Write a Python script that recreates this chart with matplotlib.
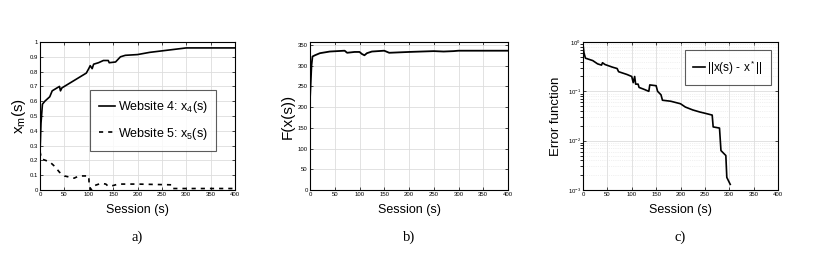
import matplotlib
matplotlib.use("Agg")
import matplotlib.pyplot as plt
import numpy as np

plt.rcParams["font.family"] = ["Liberation Sans", "DejaVu Sans"]
plt.rcParams["mathtext.fontset"] = "custom"
plt.rcParams["mathtext.rm"] = "Liberation Sans"
plt.rcParams["mathtext.it"] = "Liberation Sans"

# a) x_m(s)
s4 = [0, 2, 5, 10, 20, 25, 35, 40, 42, 45, 50, 60, 70, 80, 90, 95, 100, 103, 107, 110,
      120, 130, 140, 142, 155, 165, 175, 200, 225, 250, 275, 300, 400]
x4 = [0.25, 0.45, 0.58, 0.60, 0.63, 0.67, 0.69, 0.70, 0.67, 0.69, 0.70, 0.72, 0.74, 0.76,
      0.78, 0.79, 0.82, 0.84, 0.82, 0.85, 0.86, 0.875, 0.875, 0.86, 0.865, 0.90, 0.91,
      0.915, 0.93, 0.94, 0.95, 0.96, 0.96]
s5 = [0, 3, 20, 30, 40, 50, 70, 80, 100, 101, 105, 112, 125, 135, 140, 150, 160, 200,
      270, 272, 400]
x5 = [0.26, 0.21, 0.19, 0.16, 0.12, 0.095, 0.08, 0.095, 0.095, 0.03, 0.0, 0.03, 0.045,
      0.04, 0.025, 0.03, 0.04, 0.04, 0.035, 0.01, 0.01]

# b) F(x(s))
sf = [0, 3, 5, 10, 20, 40, 70, 75, 90, 100, 105, 110, 115, 125, 150, 160, 180, 200, 250,
      270, 290, 300, 400]
fx = [220, 300, 322, 325, 330, 334, 336, 331, 333, 333, 328, 325, 330, 334, 336, 331,
      332, 333, 335, 334, 335, 336, 336]

# c) error function
se = [0, 2, 5, 20, 30, 38, 40, 45, 60, 70, 73, 90, 100, 103, 106, 108, 113, 115, 125,
      135, 137, 150, 153, 160, 163, 180, 200, 210, 225, 240, 250, 265, 267, 280, 283,
      293, 295, 302]
err = [0.9, 0.6, 0.47, 0.42, 0.36, 0.34, 0.38, 0.35, 0.31, 0.29, 0.25, 0.22, 0.2, 0.15,
       0.2, 0.14, 0.14, 0.12, 0.11, 0.10, 0.135, 0.13, 0.10, 0.085, 0.066, 0.063, 0.056,
       0.048, 0.042, 0.038, 0.036, 0.033, 0.019, 0.018, 0.0063, 0.005, 0.0018, 0.0013]

fig = plt.figure(figsize=(8.15, 2.57), dpi=100)
ax1 = fig.add_axes([40/815, 67/257, 195/815, 148/257])
ax2 = fig.add_axes([310/815, 67/257, 198/815, 148/257])
ax3 = fig.add_axes([583/815, 67/257, 195/815, 148/257])

ax1.plot(s4, x4, "k-", lw=1.2, label="Website 4: x$_4$(s)")
ax1.plot(s5, x5, "k--", lw=1.2, dashes=(2.5, 3), label="Website 5: x$_5$(s)")
ax1.set_ylim(0, 1)
ax1.set_yticks(np.arange(0, 1.01, 0.1))
ax1.set_yticklabels(["0", "0.1", "0.2", "0.3", "0.4", "0.5", "0.6", "0.7", "0.8", "0.9", "1"])
ax1.set_ylabel("x$_m$(s)", fontsize=11, labelpad=1)
leg = ax1.legend(loc="upper left", bbox_to_anchor=(0.225, 0.715), fontsize=9,
                 fancybox=False, edgecolor="#333333", handlelength=1.3,
                 handletextpad=0.2, borderpad=0.7, labelspacing=0.85)
leg.get_frame().set_linewidth(0.8)

ax2.plot(sf, fx, "k-", lw=1.3)
ax2.set_ylim(0, 357)
ax2.set_yticks(range(0, 351, 50))
ax2.set_ylabel("F(x(s))", fontsize=11, labelpad=2)

ax3.semilogy(se, err, "k-", lw=1.2, label="||x(s) - x$^*$||")
ax3.set_ylim(1e-3, 1)
ax3.set_ylabel("Error function", fontsize=9.5, labelpad=4)
ax3.grid(True, which="minor", color="#e4e4e4", lw=0.5, ls=":")
leg3 = ax3.legend(loc="upper right", fontsize=8.5, fancybox=False, edgecolor="#333333",
                  handlelength=1.0, handletextpad=0.2, borderpad=0.7,
                  bbox_to_anchor=(0.995, 0.985))
leg3.get_frame().set_linewidth(0.8)

for ax, tag in [(ax1, "a)"), (ax2, "b)"), (ax3, "c)")]:
    ax.set_xlim(0, 400)
    ax.set_xticks(range(0, 401, 50))
    ax.grid(True, which="major", color="#dddddd", lw=0.6)
    ax.tick_params(labelsize=4.3, length=2, width=0.5, direction="in", pad=1.5,
                   top=True, right=True)
    for sp in ax.spines.values():
        sp.set_linewidth(0.8)
    ax.set_xlabel("Session (s)", fontsize=9, labelpad=5)
    ax.text(0.5, -0.32, tag, transform=ax.transAxes, ha="center", va="center",
            fontsize=10.5, family="Liberation Serif")

fig.savefig("out.png", dpi=100)
